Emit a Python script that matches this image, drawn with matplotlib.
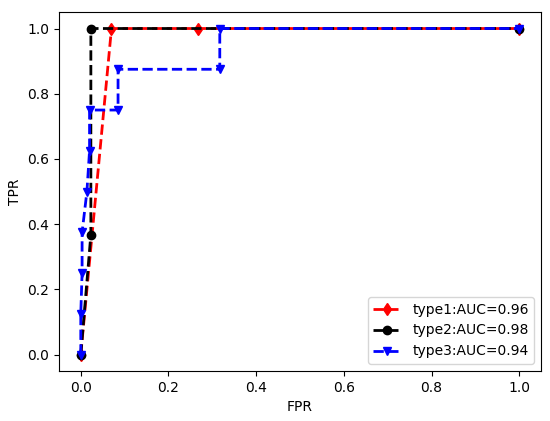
import matplotlib
matplotlib.use("Agg")
import matplotlib.pyplot as plt

# ROC points
fpr1 = [0.0, 0.07, 0.267, 1.0]
tpr1 = [0.0, 1.0, 1.0, 1.0]

fpr2 = [0.0, 0.023, 0.023, 1.0]
tpr2 = [0.0, 0.368, 1.0, 1.0]

fpr3 = [0.0, 0.0, 0.003, 0.003, 0.014, 0.02, 0.02, 0.085, 0.085, 0.317, 0.317, 1.0]
tpr3 = [0.0, 0.125, 0.25, 0.375, 0.5, 0.625, 0.75, 0.75, 0.875, 0.875, 1.0, 1.0]

labels = ["type1:AUC=0.96", "type2:AUC=0.98", "type3:AUC=0.94"]

fig = plt.figure(figsize=(5.5, 4.21), dpi=100)
ax = fig.add_axes([0.107, 0.119, 0.877, 0.852])

ax.plot(fpr1, tpr1, color="red", linestyle="--", marker="d", linewidth=2, markersize=6, label=labels[0])
ax.plot(fpr2, tpr2, color="black", linestyle="--", marker="o", linewidth=2, markersize=6, label=labels[1])
ax.plot(fpr3, tpr3, color="blue", linestyle="--", marker="v", linewidth=2, markersize=6, label=labels[2])

ax.set_xlabel("FPR")
ax.set_ylabel("TPR")
ax.legend(loc="lower right")

fig.savefig("out.png")
